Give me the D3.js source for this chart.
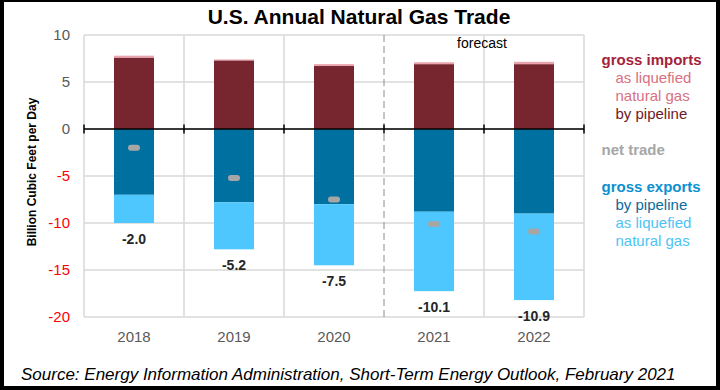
<!DOCTYPE html>
<html>
<head>
<meta charset="utf-8">
<script src="https://cdn.jsdelivr.net/npm/d3@7"></script>
<style>
  html, body { margin: 0; padding: 0; background: #000; }
  svg { display: block; font-family: "Liberation Sans", Arial, sans-serif; }
</style>
</head>
<body>
<div id="chart"></div>
<script>
const years = ["2018", "2019", "2020", "2021", "2022"];
const importsPipeline = [7.6, 7.3, 6.7, 6.9, 6.9];
const importsLng = [0.2, 0.1, 0.2, 0.2, 0.25];
const exportsPipeline = [7.0, 7.8, 8.0, 8.8, 9.0];
const exportsLng = [3.0, 5.0, 6.5, 8.45, 9.2];
const netTrade = [-2.0, -5.2, -7.5, -10.1, -10.9];
const yTicks = [10, 5, 0, -5, -10, -15, -20];

const width = 720;
const height = 390;

const colors = {
  impPipe: "#772630",
  impLng: "#eaa3ad",
  expPipe: "#0070a0",
  expLng: "#4dc7fd",
  net: "#a6a6a6"
};

const svg = d3.select("#chart").append("svg")
  .attr("width", width)
  .attr("height", height);

// black frame
svg.append("rect")
  .attr("x", 4).attr("y", 2)
  .attr("width", 712).attr("height", 384)
  .attr("fill", "#fff");

const x = d3.scaleBand()
  .domain(years)
  .range([84, 584])
  .paddingInner(0.6)
  .paddingOuter(0.3);

const y = d3.scaleLinear()
  .domain([-20, 10])
  .range([317, 35]);

const step = x.step();
const left = 84, right = 584;

// grid
const grid = svg.append("g");
grid.selectAll(".h").data(yTicks).join("line")
  .attr("x1", left).attr("x2", right)
  .attr("y1", d => y(d)).attr("y2", d => y(d))
  .attr("stroke", "#d9d9d9").attr("stroke-width", 1.5);

const bounds = d3.range(years.length + 1).map(i => left + i * step);
grid.selectAll(".v").data(bounds.filter((d, i) => i !== 3)).join("line")
  .attr("x1", d => d).attr("x2", d => d)
  .attr("y1", y(10)).attr("y2", y(-20))
  .attr("stroke", "#d9d9d9").attr("stroke-width", 1.5);

// forecast divider
svg.append("line")
  .attr("x1", bounds[3]).attr("x2", bounds[3])
  .attr("y1", y(10)).attr("y2", y(-20))
  .attr("stroke", "#8c8c8c").attr("stroke-width", 1)
  .attr("stroke-dasharray", "7,4");

svg.append("text")
  .attr("x", 482).attr("y", 48)
  .attr("text-anchor", "middle")
  .attr("font-size", 14)
  .attr("fill", "#000")
  .text("forecast");

// bars
const bars = svg.append("g");
const idx = d3.range(years.length);

bars.selectAll(".ip").data(idx).join("rect")
  .attr("x", i => x(years[i])).attr("width", x.bandwidth())
  .attr("y", i => y(importsPipeline[i]))
  .attr("height", i => y(0) - y(importsPipeline[i]))
  .attr("fill", colors.impPipe);

bars.selectAll(".il").data(idx).join("rect")
  .attr("x", i => x(years[i])).attr("width", x.bandwidth())
  .attr("y", i => y(importsPipeline[i] + importsLng[i]))
  .attr("height", i => y(importsPipeline[i]) - y(importsPipeline[i] + importsLng[i]))
  .attr("fill", colors.impLng);

bars.selectAll(".ep").data(idx).join("rect")
  .attr("x", i => x(years[i])).attr("width", x.bandwidth())
  .attr("y", y(0))
  .attr("height", i => y(-exportsPipeline[i]) - y(0))
  .attr("fill", colors.expPipe);

bars.selectAll(".el").data(idx).join("rect")
  .attr("x", i => x(years[i])).attr("width", x.bandwidth())
  .attr("y", i => y(-exportsPipeline[i]))
  .attr("height", i => y(-exportsPipeline[i] - exportsLng[i]) - y(-exportsPipeline[i]))
  .attr("fill", colors.expLng);

// net trade markers
bars.selectAll(".nt").data(idx).join("rect")
  .attr("x", i => x(years[i]) + x.bandwidth() / 2 - 6)
  .attr("y", i => y(netTrade[i]) - 3)
  .attr("width", 12).attr("height", 6)
  .attr("rx", 3)
  .attr("fill", colors.net);

// net trade labels below bars
svg.selectAll(".nl").data(idx).join("text")
  .attr("x", i => x(years[i]) + x.bandwidth() / 2)
  .attr("y", i => y(-exportsPipeline[i] - exportsLng[i]) + 21)
  .attr("text-anchor", "middle")
  .attr("font-size", 14)
  .attr("font-weight", "bold")
  .attr("fill", "#262626")
  .text(i => netTrade[i].toFixed(1));

// zero line with ticks
svg.append("line")
  .attr("x1", left).attr("x2", right)
  .attr("y1", y(0)).attr("y2", y(0))
  .attr("stroke", "#000").attr("stroke-width", 1.5);
svg.selectAll(".zt").data(bounds).join("line")
  .attr("x1", d => d).attr("x2", d => d)
  .attr("y1", y(0) - 4.5).attr("y2", y(0) + 4.5)
  .attr("stroke", "#000").attr("stroke-width", 1.5);

// y tick labels
svg.selectAll(".yl").data(yTicks).join("text")
  .attr("x", 70)
  .attr("y", d => y(d))
  .attr("dy", "0.36em")
  .attr("text-anchor", "end")
  .attr("font-size", 15)
  .attr("fill", d => d < 0 ? "#ff0000" : "#595959")
  .text(d => d);

// x labels
svg.selectAll(".xl").data(years).join("text")
  .attr("x", d => x(d) + x.bandwidth() / 2)
  .attr("y", 342)
  .attr("text-anchor", "middle")
  .attr("font-size", 15)
  .attr("fill", "#595959")
  .text(d => d);

// y axis title
svg.append("text")
  .attr("transform", "translate(36,172) rotate(-90)")
  .attr("text-anchor", "middle")
  .attr("font-size", 12)
  .attr("font-weight", "bold")
  .attr("fill", "#000")
  .text("Billion Cubic Feet per Day");

// title
svg.append("text")
  .attr("x", 359).attr("y", 23.5)
  .attr("text-anchor", "middle")
  .attr("font-size", 21)
  .attr("font-weight", "bold")
  .attr("fill", "#000")
  .text("U.S. Annual Natural Gas Trade");

// legend
const legend = [
  {text: "gross imports", color: "#a3233a", bold: true, dx: 0, y: 65},
  {text: "as liquefied", color: "#d9707f", bold: false, dx: 14, y: 83},
  {text: "natural gas", color: "#d9707f", bold: false, dx: 14, y: 101},
  {text: "by pipeline", color: "#6e1a26", bold: false, dx: 14, y: 118.5},
  {text: "net trade", color: "#a6a6a6", bold: true, dx: 0, y: 155},
  {text: "gross exports", color: "#0b90d0", bold: true, dx: 0, y: 192},
  {text: "by pipeline", color: "#0a6b9a", bold: false, dx: 14, y: 210},
  {text: "as liquefied", color: "#4dc3f5", bold: false, dx: 14, y: 228},
  {text: "natural gas", color: "#4dc3f5", bold: false, dx: 14, y: 245.5}
];
svg.append("g").selectAll("text").data(legend).join("text")
  .attr("x", d => 601.5 + d.dx)
  .attr("y", d => d.y)
  .attr("font-size", 15)
  .attr("font-weight", d => d.bold ? "bold" : "normal")
  .attr("fill", d => d.color)
  .text(d => d.text);

// source
svg.append("text")
  .attr("x", 21).attr("y", 380)
  .attr("font-size", 17)
  .attr("font-style", "italic")
  .attr("fill", "#000")
  .text("Source: Energy Information Administration, Short-Term Energy Outlook, February 2021");
</script>
</body>
</html>
